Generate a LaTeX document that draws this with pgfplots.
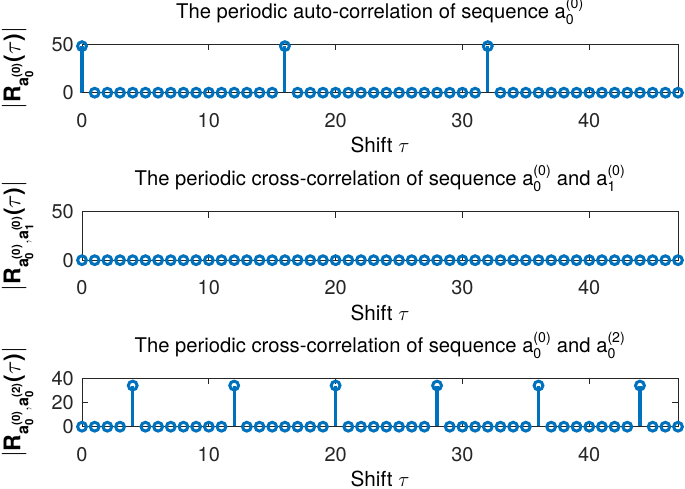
\documentclass[border=0pt]{standalone}
\usepackage{amsmath}
\usepackage{fontspec}
\setmainfont{TeX Gyre Heros}
\usepackage{pgfplots}
\pgfplotsset{compat=1.18}

\definecolor{mblue}{rgb}{0,0.447,0.741}
\definecolor{maxis}{rgb}{0.15,0.15,0.15}

% a_{sub}^{(sup)} in text font
\newcommand\seqa[2]{\text{a}_{\text{#1}}^{\text{(#2)}}}

\pgfplotsset{
  corrax/.style={
    width=596bp, height=48.5bp, scale only axis,
    xmin=0, xmax=47, ymin=0,
    xtick={0,10,20,30,40},
    tick align=inside, major tick length=6bp,
    axis line style={draw=maxis, line width=0.8bp},
    tick style={draw=maxis, line width=0.8bp},
    clip=false,
    /pgf/number format/assume math mode=true,
    tick label style={font=\fontsize{20}{24}\selectfont, text=maxis},
    xticklabel style={anchor=north, inner sep=0pt, yshift=-20bp},
    yticklabel style={anchor=east, inner sep=0pt, xshift=-8bp},
    title style={font=\fontsize{20.3}{25}\selectfont, at={(axis description cs:0.5,1)},
      anchor=base, yshift=20bp, inner sep=0pt},
    xlabel style={font=\fontsize{20.8}{25}\selectfont, at={(axis description cs:0.5,0)},
      anchor=base, yshift=-60bp, inner sep=0pt},
    ylabel style={font=\fontsize{23}{27}\selectfont\bfseries,
      at={(axis description cs:-0.108,0.5)}, anchor=center, inner sep=0pt},
  },
  mystem/.style={ycomb, color=mblue, line width=3.2bp, mark=o, mark size=4.4bp,
    mark options={line width=3bp}},
  mybase/.style={color=maxis, line width=0.8bp, no markers},
}

\begin{document}
\begin{tikzpicture}
\useasboundingbox (-82bp,-396.3bp) rectangle (603bp,92.7bp);

% auto-correlation
\begin{axis}[corrax, at={(0,0)}, anchor=south west,
    ymax=50, ytick={0,50},
    xlabel={Shift $\tau$},
    title={The periodic auto-correlation of sequence $\seqa{0}{0}$},
    ylabel={$|$R$_{\seqa{0}{0}}$($\tau$)$|$}]
  \addplot[mystem] coordinates {
    (0,48) (1,0) (2,0) (3,0) (4,0) (5,0) (6,0) (7,0)
    (8,0) (9,0) (10,0) (11,0) (12,0) (13,0) (14,0) (15,0)
    (16,48) (17,0) (18,0) (19,0) (20,0) (21,0) (22,0) (23,0)
    (24,0) (25,0) (26,0) (27,0) (28,0) (29,0) (30,0) (31,0)
    (32,48) (33,0) (34,0) (35,0) (36,0) (37,0) (38,0) (39,0)
    (40,0) (41,0) (42,0) (43,0) (44,0) (45,0) (46,0) (47,0)
  };
  \addplot[mybase] coordinates {(0,0) (47,0)};
\end{axis}

% cross-correlation with a_1^(0)
\begin{axis}[corrax, at={(0,-167.5bp)}, anchor=south west,
    ymax=50, ytick={0,50},
    xlabel={Shift $\tau$},
    title={The periodic cross-correlation of sequence $\seqa{0}{0}$ and $\seqa{1}{0}$},
    ylabel={$|$R$_{\seqa{0}{0},\seqa{1}{0}}$($\tau$)$|$}]
  \addplot[mystem] coordinates {
    (0,0) (1,0) (2,0) (3,0) (4,0) (5,0) (6,0) (7,0)
    (8,0) (9,0) (10,0) (11,0) (12,0) (13,0) (14,0) (15,0)
    (16,0) (17,0) (18,0) (19,0) (20,0) (21,0) (22,0) (23,0)
    (24,0) (25,0) (26,0) (27,0) (28,0) (29,0) (30,0) (31,0)
    (32,0) (33,0) (34,0) (35,0) (36,0) (37,0) (38,0) (39,0)
    (40,0) (41,0) (42,0) (43,0) (44,0) (45,0) (46,0) (47,0)
  };
  \addplot[mybase] coordinates {(0,0) (47,0)};
\end{axis}

% cross-correlation with a_0^(2)
\begin{axis}[corrax, at={(0,-334bp)}, anchor=south west,
    ymax=40, ytick={0,20,40},
    xlabel={Shift $\tau$},
    title={The periodic cross-correlation of sequence $\seqa{0}{0}$ and $\seqa{0}{2}$},
    ylabel={$|$R$_{\seqa{0}{0},\seqa{0}{2}}$($\tau$)$|$}]
  \addplot[mystem] coordinates {
    (0,0) (1,0) (2,0) (3,0) (4,33.94) (5,0) (6,0) (7,0)
    (8,0) (9,0) (10,0) (11,0) (12,33.94) (13,0) (14,0) (15,0)
    (16,0) (17,0) (18,0) (19,0) (20,33.94) (21,0) (22,0) (23,0)
    (24,0) (25,0) (26,0) (27,0) (28,33.94) (29,0) (30,0) (31,0)
    (32,0) (33,0) (34,0) (35,0) (36,33.94) (37,0) (38,0) (39,0)
    (40,0) (41,0) (42,0) (43,0) (44,33.94) (45,0) (46,0) (47,0)
  };
  \addplot[mybase] coordinates {(0,0) (47,0)};
\end{axis}
\end{tikzpicture}
\end{document}
